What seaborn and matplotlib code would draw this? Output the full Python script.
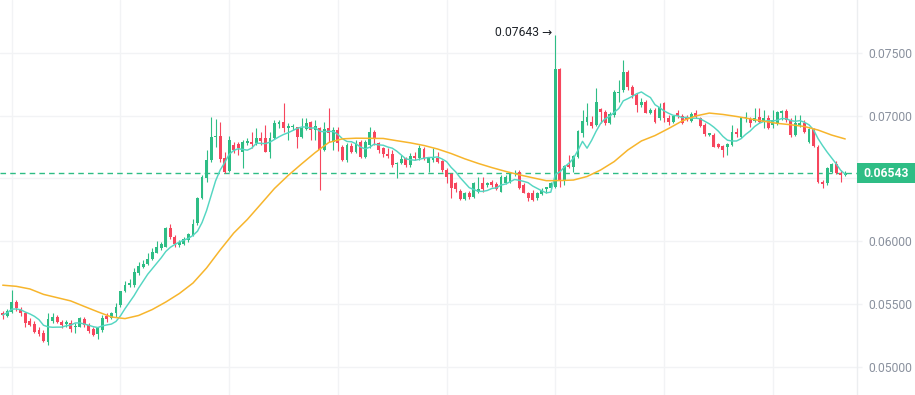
import numpy as np
import pandas as pd
import matplotlib
matplotlib.use('Agg')
import matplotlib.pyplot as plt
import seaborn as sns
from matplotlib.patches import Rectangle

# OHLC per candle (187 candles)
opens = [
    0.05431, 0.05407, 0.05439, 0.05518, 0.05460, 0.05426, 0.05367, 0.05341, 0.05293, 0.05272,
    0.05199, 0.05365, 0.05399, 0.05354, 0.05339, 0.05351, 0.05315, 0.05319, 0.05380, 0.05333,
    0.05299, 0.05261, 0.05293, 0.05405, 0.05386, 0.05426, 0.05492, 0.05606, 0.05651, 0.05651,
    0.05745, 0.05792, 0.05816, 0.05856, 0.05908, 0.05943, 0.05956, 0.06103, 0.06036, 0.05970,
    0.05978, 0.06010, 0.06049, 0.06142, 0.06341, 0.06501, 0.06646, 0.06827, 0.06838, 0.06660,
    0.06559, 0.06766, 0.06771, 0.06712, 0.06784, 0.06792, 0.06779, 0.06824, 0.06819, 0.06712,
    0.06819, 0.06935, 0.06951, 0.06904, 0.06909, 0.06907, 0.06832, 0.06891, 0.06947, 0.06885,
    0.06899, 0.06726, 0.06899, 0.06792, 0.06885, 0.06752, 0.06646, 0.06760, 0.06712, 0.06787,
    0.06673, 0.06766, 0.06872, 0.06779, 0.06740, 0.06692, 0.06692, 0.06612, 0.06620, 0.06660,
    0.06607, 0.06681, 0.06660, 0.06734, 0.06620, 0.06646, 0.06665, 0.06638, 0.06567, 0.06535,
    0.06461, 0.06402, 0.06334, 0.06384, 0.06354, 0.06394, 0.06463, 0.06447, 0.06474, 0.06455,
    0.06394, 0.06461, 0.06474, 0.06535, 0.06553, 0.06447, 0.06381, 0.06381, 0.06342, 0.06376,
    0.06416, 0.06421, 0.06434, 0.07368, 0.06487, 0.06607, 0.06593, 0.06673, 0.06859, 0.06951,
    0.06949, 0.06925, 0.07050, 0.07031, 0.06939, 0.07005, 0.07182, 0.07204, 0.07349, 0.07230,
    0.07164, 0.07084, 0.07111, 0.07023, 0.07044, 0.06978, 0.07102, 0.06983, 0.06951, 0.07023,
    0.06997, 0.06989, 0.06959, 0.07023, 0.06978, 0.06925, 0.06845, 0.06845, 0.06774, 0.06758,
    0.06748, 0.06766, 0.06872, 0.06832, 0.06981, 0.06970, 0.06959, 0.06986, 0.06951, 0.06978,
    0.06925, 0.06939, 0.07021, 0.07039, 0.06965, 0.06845, 0.06925, 0.06943, 0.06792, 0.06891,
    0.06752, 0.06474, 0.06461, 0.06553, 0.06612, 0.06545, 0.06527,
]
highs = [
    0.05447, 0.05458, 0.05612, 0.05532, 0.05474, 0.05439, 0.05386, 0.05367, 0.05314, 0.05293,
    0.05426, 0.05426, 0.05412, 0.05373, 0.05373, 0.05373, 0.05346, 0.05399, 0.05394, 0.05346,
    0.05319, 0.05319, 0.05412, 0.05431, 0.05439, 0.05506, 0.05606, 0.05686, 0.05697, 0.05784,
    0.05837, 0.05850, 0.05904, 0.05944, 0.06004, 0.05996, 0.06115, 0.06137, 0.06050, 0.06010,
    0.06031, 0.06063, 0.06174, 0.06354, 0.06527, 0.06726, 0.06991, 0.06970, 0.06951, 0.06712,
    0.06838, 0.06792, 0.06790, 0.06806, 0.06819, 0.06872, 0.06899, 0.06872, 0.06925, 0.06872,
    0.06965, 0.06965, 0.07098, 0.06939, 0.06931, 0.06912, 0.06978, 0.06983, 0.06957, 0.06965,
    0.06912, 0.06951, 0.07058, 0.06912, 0.06909, 0.06766, 0.06782, 0.06782, 0.06806, 0.06806,
    0.06806, 0.06912, 0.06885, 0.06792, 0.06752, 0.06740, 0.06726, 0.06633, 0.06686, 0.06673,
    0.06700, 0.06712, 0.06766, 0.06752, 0.06673, 0.06740, 0.06712, 0.06646, 0.06580, 0.06545,
    0.06474, 0.06413, 0.06394, 0.06400, 0.06474, 0.06513, 0.06513, 0.06474, 0.06487, 0.06471,
    0.06527, 0.06527, 0.06553, 0.06567, 0.06567, 0.06461, 0.06394, 0.06408, 0.06394, 0.06421,
    0.06434, 0.06474, 0.07643, 0.07376, 0.06607, 0.06686, 0.06686, 0.06885, 0.07044, 0.07098,
    0.06997, 0.07217, 0.07058, 0.07044, 0.07028, 0.07204, 0.07283, 0.07442, 0.07363, 0.07243,
    0.07177, 0.07137, 0.07124, 0.07060, 0.07058, 0.07098, 0.07111, 0.07005, 0.07005, 0.07044,
    0.07013, 0.07005, 0.07031, 0.07044, 0.06991, 0.06939, 0.06861, 0.06859, 0.06782, 0.06766,
    0.06779, 0.06925, 0.06901, 0.06991, 0.07031, 0.06989, 0.07058, 0.07058, 0.07044, 0.07005,
    0.07044, 0.07039, 0.07044, 0.07050, 0.06978, 0.07005, 0.07005, 0.06965, 0.06899, 0.06901,
    0.06766, 0.06487, 0.06591, 0.06620, 0.06638, 0.06567, 0.06560,
]
lows = [
    0.05381, 0.05399, 0.05431, 0.05444, 0.05407, 0.05319, 0.05325, 0.05267, 0.05245, 0.05199,
    0.05174, 0.05346, 0.05346, 0.05307, 0.05319, 0.05275, 0.05267, 0.05315, 0.05319, 0.05267,
    0.05242, 0.05220, 0.05280, 0.05359, 0.05380, 0.05399, 0.05476, 0.05598, 0.05638, 0.05638,
    0.05731, 0.05784, 0.05811, 0.05850, 0.05904, 0.05930, 0.05951, 0.06017, 0.05956, 0.05956,
    0.05970, 0.05996, 0.06041, 0.06129, 0.06334, 0.06474, 0.06633, 0.06752, 0.06633, 0.06545,
    0.06551, 0.06700, 0.06686, 0.06580, 0.06766, 0.06740, 0.06766, 0.06766, 0.06708, 0.06660,
    0.06814, 0.06899, 0.06872, 0.06806, 0.06885, 0.06740, 0.06819, 0.06885, 0.06806, 0.06806,
    0.06408, 0.06718, 0.06792, 0.06726, 0.06718, 0.06638, 0.06630, 0.06702, 0.06702, 0.06660,
    0.06662, 0.06740, 0.06766, 0.06700, 0.06673, 0.06660, 0.06593, 0.06501, 0.06612, 0.06593,
    0.06593, 0.06646, 0.06646, 0.06646, 0.06553, 0.06633, 0.06620, 0.06553, 0.06461, 0.06342,
    0.06394, 0.06328, 0.06328, 0.06334, 0.06342, 0.06381, 0.06394, 0.06434, 0.06434, 0.06408,
    0.06392, 0.06455, 0.06466, 0.06519, 0.06413, 0.06381, 0.06322, 0.06322, 0.06328, 0.06368,
    0.06381, 0.06413, 0.06421, 0.06434, 0.06447, 0.06580, 0.06553, 0.06662, 0.06832, 0.06925,
    0.06901, 0.06917, 0.06939, 0.06925, 0.06931, 0.06991, 0.07111, 0.07190, 0.07204, 0.07137,
    0.07031, 0.07071, 0.07018, 0.07013, 0.06939, 0.06965, 0.06951, 0.06925, 0.06939, 0.06978,
    0.06931, 0.06957, 0.06951, 0.06981, 0.06909, 0.06837, 0.06837, 0.06748, 0.06740, 0.06673,
    0.06686, 0.06758, 0.06829, 0.06822, 0.06949, 0.06912, 0.06951, 0.06939, 0.06899, 0.06893,
    0.06899, 0.06925, 0.06965, 0.06951, 0.06832, 0.06837, 0.06912, 0.06859, 0.06779, 0.06750,
    0.06466, 0.06421, 0.06450, 0.06545, 0.06539, 0.06474, 0.06523,
]
closes = [
    0.05413, 0.05447, 0.05518, 0.05466, 0.05426, 0.05346, 0.05333, 0.05280, 0.05261, 0.05205,
    0.05381, 0.05399, 0.05354, 0.05333, 0.05354, 0.05299, 0.05325, 0.05386, 0.05333, 0.05288,
    0.05253, 0.05307, 0.05391, 0.05380, 0.05431, 0.05479, 0.05604, 0.05651, 0.05665, 0.05757,
    0.05803, 0.05819, 0.05858, 0.05911, 0.05956, 0.05975, 0.06107, 0.06033, 0.05978, 0.05996,
    0.06015, 0.06058, 0.06137, 0.06341, 0.06513, 0.06646, 0.06832, 0.06840, 0.06652, 0.06553,
    0.06806, 0.06726, 0.06744, 0.06792, 0.06800, 0.06771, 0.06824, 0.06798, 0.06712, 0.06824,
    0.06939, 0.06951, 0.06899, 0.06920, 0.06920, 0.06832, 0.06904, 0.06939, 0.06885, 0.06920,
    0.06726, 0.06893, 0.06859, 0.06885, 0.06782, 0.06646, 0.06766, 0.06712, 0.06779, 0.06673,
    0.06787, 0.06872, 0.06819, 0.06726, 0.06692, 0.06681, 0.06607, 0.06620, 0.06654, 0.06607,
    0.06681, 0.06660, 0.06740, 0.06662, 0.06660, 0.06660, 0.06633, 0.06567, 0.06511, 0.06421,
    0.06413, 0.06334, 0.06386, 0.06352, 0.06461, 0.06413, 0.06416, 0.06466, 0.06447, 0.06416,
    0.06513, 0.06513, 0.06540, 0.06545, 0.06421, 0.06386, 0.06342, 0.06328, 0.06381, 0.06408,
    0.06429, 0.06461, 0.07368, 0.06487, 0.06599, 0.06593, 0.06678, 0.06880, 0.06960, 0.06986,
    0.06917, 0.07111, 0.07031, 0.06939, 0.07013, 0.07190, 0.07190, 0.07349, 0.07230, 0.07164,
    0.07084, 0.07111, 0.07023, 0.07044, 0.06951, 0.07071, 0.06978, 0.06951, 0.06997, 0.06997,
    0.06939, 0.06973, 0.07013, 0.06986, 0.06917, 0.06853, 0.06859, 0.06752, 0.06748, 0.06726,
    0.06774, 0.06872, 0.06853, 0.06986, 0.06989, 0.06939, 0.06978, 0.06951, 0.06978, 0.06899,
    0.06965, 0.07031, 0.07036, 0.06965, 0.06845, 0.06939, 0.06939, 0.06872, 0.06891, 0.06758,
    0.06474, 0.06455, 0.06580, 0.06612, 0.06545, 0.06527, 0.06543,
]

# slow moving average, read every 3rd candle
slow_ma_idx = list(range(0, 187, 3))
slow_ma = [
    0.05650, 0.05641, 0.05620, 0.05577, 0.05551, 0.05525, 0.05481, 0.05438, 0.05397, 0.05384,
    0.05409, 0.05456, 0.05516, 0.05584, 0.05667, 0.05787, 0.05930, 0.06065, 0.06173, 0.06296,
    0.06420, 0.06523, 0.06616, 0.06706, 0.06786, 0.06815, 0.06820, 0.06819, 0.06818, 0.06800,
    0.06783, 0.06762, 0.06734, 0.06698, 0.06656, 0.06619, 0.06586, 0.06556, 0.06529, 0.06505,
    0.06482, 0.06483, 0.06487, 0.06515, 0.06567, 0.06634, 0.06726, 0.06798, 0.06841, 0.06897,
    0.06957, 0.06997, 0.07020, 0.07009, 0.06993, 0.06974, 0.06955, 0.06938, 0.06927, 0.06913,
    0.06885, 0.06845, 0.06814,
]

price_ticks = [0.050, 0.055, 0.060, 0.065, 0.070, 0.075]
last_price = 0.06543
peak_price = 0.07643
peak_idx = 122

GREEN = '#2ebd85'
RED = '#f6465d'
GRID = '#f2f3f5'

df = pd.DataFrame({'open': opens, 'high': highs, 'low': lows, 'close': closes})
df['idx'] = np.arange(len(df))
df['ma7'] = df['close'].rolling(7, min_periods=1).mean()
colors = np.where(df['close'] >= df['open'], GREEN, RED)

sns.set_theme(style='white')
plt.rcParams['font.family'] = ['Roboto', 'DejaVu Sans']

fig = plt.figure(figsize=(9.15, 3.95), dpi=100)
ax = fig.add_axes([0, 0, 857 / 915, 1])

# candles
ax.vlines(df['idx'], df['low'], df['high'], colors=colors, linewidth=0.8, zorder=3)
body_lo = df[['open', 'close']].min(axis=1)
body_h = (df['close'] - df['open']).abs().clip(lower=0.00006)
ax.bar(df['idx'], body_h, bottom=body_lo, width=0.64, color=colors, linewidth=0, zorder=3)

# moving averages
sns.lineplot(x=df['idx'], y=df['ma7'], ax=ax, color='#55d6c2', linewidth=1.05, zorder=4, legend=False)
sns.lineplot(x=slow_ma_idx, y=slow_ma, ax=ax, color='#f7b52c', linewidth=1.1, zorder=4, legend=False)

# last price line
ax.axhline(last_price, color=GREEN, linewidth=1, linestyle=(0, (4, 3)), zorder=2)

ax.set_xlim(-0.6, 188.6)
ax.set_ylim(0.04776, 0.0792)
ax.set_xticks(range(2, 187, 24))
ax.set_xticklabels([])
ax.tick_params(axis='x', length=0)
ax.yaxis.tick_right()
ax.set_yticks(price_ticks)
ax.set_yticklabels(['' if abs(v - last_price) < 0.001 else f'{v:.5f}' for v in price_ticks])
ax.tick_params(axis='y', length=3.6, width=1, color=GRID, pad=4.3,
               labelsize=8.7, labelcolor='#8a919e')
ax.grid(True, color=GRID, linewidth=1)
ax.set_axisbelow(True)
ax.set_xlabel('')
ax.set_ylabel('')
for side in ['top', 'left', 'bottom']:
    ax.spines[side].set_visible(False)
ax.spines['right'].set_color('#eceef0')
ax.spines['right'].set_linewidth(1)

# peak annotation
ax.annotate(f'{peak_price:.5f} \u2192', xy=(peak_idx, peak_price), xytext=(-2, 1.5),
            textcoords='offset points', ha='right', va='center',
            fontsize=8.7, color='#1e2329')

# last price tag on the axis
yc = ax.transData.transform((0, last_price))[1]
fig.add_artist(Rectangle((857 / 915, (yc - 10) / 395), 58 / 915, 20 / 395,
                         transform=fig.transFigure, facecolor=GREEN, edgecolor='none', zorder=5))
fig.text(886 / 915, yc / 395, f'{last_price:.5f}', color='white', ha='center', va='center',
         fontsize=8.7, fontweight='bold', zorder=6)

fig.savefig('out.png', dpi=100)
plt.close(fig)
